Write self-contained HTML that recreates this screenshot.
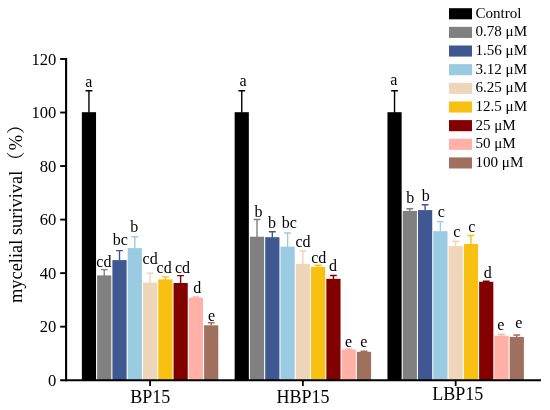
<!DOCTYPE html>
<html><head><meta charset="utf-8"><title>mycelial survival</title>
<style>
html,body{margin:0;padding:0;background:#fff;}
svg{display:block;}
text{font-family:"Liberation Serif","Noto Serif CJK SC",serif;fill:#000;}
.tk{font-size:16.6px;text-anchor:end;}
.lt{font-size:16px;text-anchor:middle;}
.cat{font-size:18px;text-anchor:middle;}
.lg{font-size:15.1px;}
.yl{font-size:18.4px;text-anchor:start;}
</style></head><body>
<svg width="550" height="410" viewBox="0 0 550 410">
<rect width="550" height="410" fill="#fff"/>
<rect x="81.85" y="112.20" width="14.2" height="268.00" fill="#000000"/>
<path d="M88.95 112.70V90.80M85.55 90.80H92.35" stroke="#000000" stroke-width="1.4" fill="none"/>
<rect x="97.13" y="275.40" width="14.2" height="104.80" fill="#808080"/>
<path d="M104.23 275.90V269.60M100.83 269.60H107.63" stroke="#808080" stroke-width="1.4" fill="none"/>
<rect x="112.41" y="260.10" width="14.2" height="120.10" fill="#3f5892"/>
<path d="M119.51 260.60V250.60M116.11 250.60H122.91" stroke="#3f5892" stroke-width="1.4" fill="none"/>
<rect x="127.69" y="248.10" width="14.2" height="132.10" fill="#9acbe0"/>
<path d="M134.79 248.60V236.70M131.39 236.70H138.19" stroke="#9acbe0" stroke-width="1.4" fill="none"/>
<rect x="142.97" y="282.60" width="14.2" height="97.60" fill="#efd6ba"/>
<path d="M150.07 283.10V273.20M146.67 273.20H153.47" stroke="#efd6ba" stroke-width="1.4" fill="none"/>
<rect x="158.25" y="279.40" width="14.2" height="100.80" fill="#f8c011"/>
<path d="M165.35 279.90V276.90M161.95 276.90H168.75" stroke="#f8c011" stroke-width="1.4" fill="none"/>
<rect x="173.53" y="283.00" width="14.2" height="97.20" fill="#820000"/>
<path d="M180.63 283.50V275.60M177.23 275.60H184.03" stroke="#820000" stroke-width="1.4" fill="none"/>
<rect x="188.81" y="297.70" width="14.2" height="82.50" fill="#ffb1a8"/>
<path d="M195.91 298.20V297.00M192.51 297.00H199.31" stroke="#ffb1a8" stroke-width="1.4" fill="none"/>
<rect x="204.09" y="325.30" width="14.2" height="54.90" fill="#a0705e"/>
<path d="M211.19 325.80V322.70M207.79 322.70H214.59" stroke="#a0705e" stroke-width="1.4" fill="none"/>
<rect x="234.65" y="112.20" width="14.2" height="268.00" fill="#000000"/>
<path d="M241.75 112.70V90.80M238.35 90.80H245.15" stroke="#000000" stroke-width="1.4" fill="none"/>
<rect x="249.93" y="236.70" width="14.2" height="143.50" fill="#808080"/>
<path d="M257.03 237.20V219.50M253.63 219.50H260.43" stroke="#808080" stroke-width="1.4" fill="none"/>
<rect x="265.21" y="237.20" width="14.2" height="143.00" fill="#3f5892"/>
<path d="M272.31 237.70V231.80M268.91 231.80H275.71" stroke="#3f5892" stroke-width="1.4" fill="none"/>
<rect x="280.49" y="246.70" width="14.2" height="133.50" fill="#9acbe0"/>
<path d="M287.59 247.20V233.00M284.19 233.00H290.99" stroke="#9acbe0" stroke-width="1.4" fill="none"/>
<rect x="295.77" y="263.90" width="14.2" height="116.30" fill="#efd6ba"/>
<path d="M302.87 264.40V251.00M299.47 251.00H306.27" stroke="#efd6ba" stroke-width="1.4" fill="none"/>
<rect x="311.05" y="266.80" width="14.2" height="113.40" fill="#f8c011"/>
<path d="M318.15 267.30V265.20M314.75 265.20H321.55" stroke="#f8c011" stroke-width="1.4" fill="none"/>
<rect x="326.33" y="278.80" width="14.2" height="101.40" fill="#820000"/>
<path d="M333.43 279.30V275.50M330.03 275.50H336.83" stroke="#820000" stroke-width="1.4" fill="none"/>
<rect x="341.61" y="349.50" width="14.2" height="30.70" fill="#ffb1a8"/>
<path d="M348.71 350.00V349.00M345.31 349.00H352.11" stroke="#ffb1a8" stroke-width="1.4" fill="none"/>
<rect x="356.89" y="351.80" width="14.2" height="28.40" fill="#a0705e"/>
<path d="M363.99 352.30V351.30M360.59 351.30H367.39" stroke="#a0705e" stroke-width="1.4" fill="none"/>
<rect x="387.45" y="112.20" width="14.2" height="268.00" fill="#000000"/>
<path d="M394.55 112.70V90.80M391.15 90.80H397.95" stroke="#000000" stroke-width="1.4" fill="none"/>
<rect x="402.73" y="210.90" width="14.2" height="169.30" fill="#808080"/>
<path d="M409.83 211.40V208.80M406.43 208.80H413.23" stroke="#808080" stroke-width="1.4" fill="none"/>
<rect x="418.01" y="210.10" width="14.2" height="170.10" fill="#3f5892"/>
<path d="M425.11 210.60V204.70M421.71 204.70H428.51" stroke="#3f5892" stroke-width="1.4" fill="none"/>
<rect x="433.29" y="231.20" width="14.2" height="149.00" fill="#9acbe0"/>
<path d="M440.39 231.70V221.60M436.99 221.60H443.79" stroke="#9acbe0" stroke-width="1.4" fill="none"/>
<rect x="448.57" y="246.10" width="14.2" height="134.10" fill="#efd6ba"/>
<path d="M455.67 246.60V241.20M452.27 241.20H459.07" stroke="#efd6ba" stroke-width="1.4" fill="none"/>
<rect x="463.85" y="244.00" width="14.2" height="136.20" fill="#f8c011"/>
<path d="M470.95 244.50V235.50M467.55 235.50H474.35" stroke="#f8c011" stroke-width="1.4" fill="none"/>
<rect x="479.13" y="281.80" width="14.2" height="98.40" fill="#820000"/>
<path d="M486.23 282.30V281.30M482.83 281.30H489.63" stroke="#820000" stroke-width="1.4" fill="none"/>
<rect x="494.41" y="335.80" width="14.2" height="44.40" fill="#ffb1a8"/>
<path d="M501.51 336.30V334.50M498.11 334.50H504.91" stroke="#ffb1a8" stroke-width="1.4" fill="none"/>
<rect x="509.69" y="336.90" width="14.2" height="43.30" fill="#a0705e"/>
<path d="M516.79 337.40V335.00M513.39 335.00H520.19" stroke="#a0705e" stroke-width="1.4" fill="none"/>
<path d="M66.1 58V381.2" stroke="#000" stroke-width="2.1" fill="none"/>
<path d="M60.2 380.2H541" stroke="#000" stroke-width="2" fill="none"/>
<path d="M60.2 326.67H66" stroke="#000" stroke-width="1.9" fill="none"/>
<path d="M60.2 273.13H66" stroke="#000" stroke-width="1.9" fill="none"/>
<path d="M60.2 219.60H66" stroke="#000" stroke-width="1.9" fill="none"/>
<path d="M60.2 166.06H66" stroke="#000" stroke-width="1.9" fill="none"/>
<path d="M60.2 112.53H66" stroke="#000" stroke-width="1.9" fill="none"/>
<path d="M60.2 59.00H66" stroke="#000" stroke-width="1.9" fill="none"/>
<text class="tk" x="56.3" y="385.80">0</text>
<text class="tk" x="56.3" y="332.27">20</text>
<text class="tk" x="56.3" y="278.73">40</text>
<text class="tk" x="56.3" y="225.20">60</text>
<text class="tk" x="56.3" y="171.66">80</text>
<text class="tk" x="56.3" y="118.13">100</text>
<text class="tk" x="56.3" y="64.60">120</text>
<path d="M150.07 381V386.1" stroke="#000" stroke-width="1.8" fill="none"/>
<text class="cat" x="150.2" y="402.8">BP15</text>
<path d="M302.87 381V386.1" stroke="#000" stroke-width="1.8" fill="none"/>
<text class="cat" x="303.1" y="402.8">HBP15</text>
<path d="M455.67 381V386.1" stroke="#000" stroke-width="1.8" fill="none"/>
<text class="cat" x="457.8" y="400.3">LBP15</text>
<text class="lt" x="88.9" y="87.20">a</text>
<text class="lt" x="103.85" y="266.50">cd</text>
<text class="lt" x="120.3" y="245.30">bc</text>
<text class="lt" x="134.2" y="232.20">b</text>
<text class="lt" x="150.15" y="263.60">cd</text>
<text class="lt" x="164.15" y="272.60">cd</text>
<text class="lt" x="182.45" y="272.60">cd</text>
<text class="lt" x="197.2" y="293.10">d</text>
<text class="lt" x="211.6" y="321.10">e</text>
<text class="lt" x="243" y="85.50">a</text>
<text class="lt" x="258.5" y="216.60">b</text>
<text class="lt" x="272.1" y="228.30">b</text>
<text class="lt" x="289.4" y="228.30">bc</text>
<text class="lt" x="303" y="246.60">cd</text>
<text class="lt" x="318.7" y="262.50">cd</text>
<text class="lt" x="333" y="271.00">d</text>
<text class="lt" x="348.65" y="347.10">e</text>
<text class="lt" x="363.8" y="347.10">e</text>
<text class="lt" x="393.8" y="85.30">a</text>
<text class="lt" x="410.25" y="203.30">b</text>
<text class="lt" x="425.65" y="200.90">b</text>
<text class="lt" x="441.35" y="216.80">c</text>
<text class="lt" x="456.7" y="237.20">c</text>
<text class="lt" x="471.9" y="232.30">c</text>
<text class="lt" x="487.75" y="277.80">d</text>
<text class="lt" x="500.8" y="330.40">e</text>
<text class="lt" x="518.75" y="327.80">e</text>
<rect x="449" y="8.20" width="23" height="11.1" fill="#000000"/>
<text class="lg" x="475.4" y="17.70">Control</text>
<rect x="449" y="26.85" width="23" height="11.1" fill="#808080"/>
<text class="lg" x="475.4" y="36.35">0.78 μM</text>
<rect x="449" y="45.50" width="23" height="11.1" fill="#3f5892"/>
<text class="lg" x="475.4" y="55.00">1.56 μM</text>
<rect x="449" y="64.15" width="23" height="11.1" fill="#9acbe0"/>
<text class="lg" x="475.4" y="73.65">3.12 μM</text>
<rect x="449" y="82.80" width="23" height="11.1" fill="#efd6ba"/>
<text class="lg" x="475.4" y="92.30">6.25 μM</text>
<rect x="449" y="101.45" width="23" height="11.1" fill="#f8c011"/>
<text class="lg" x="475.4" y="110.95">12.5 μM</text>
<rect x="449" y="120.10" width="23" height="11.1" fill="#820000"/>
<text class="lg" x="475.4" y="129.60">25 μM</text>
<rect x="449" y="138.75" width="23" height="11.1" fill="#ffb1a8"/>
<text class="lg" x="475.4" y="148.25">50 μM</text>
<rect x="449" y="157.40" width="23" height="11.1" fill="#a0705e"/>
<text class="lg" x="475.4" y="166.90">100 μM</text>
<text class="yl" transform="translate(21.8 303) rotate(-90)"><tspan x="0" y="0">mycelial surivival</tspan><tspan x="133">（</tspan><tspan x="152.8">%</tspan><tspan x="169">）</tspan></text>
</svg></body></html>
